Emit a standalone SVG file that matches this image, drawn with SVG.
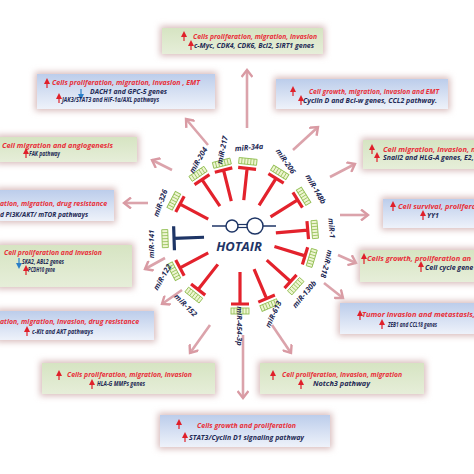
<svg xmlns="http://www.w3.org/2000/svg" width="474" height="474" viewBox="0 0 474 474">
<defs>
<linearGradient id="gG" x1="0" y1="0" x2="0" y2="1"><stop offset="0" stop-color="#d6e4c2"/><stop offset="1" stop-color="#e6eed9"/></linearGradient>
<linearGradient id="gB" x1="0" y1="0" x2="0" y2="1"><stop offset="0" stop-color="#bccdeb"/><stop offset="1" stop-color="#eef2fa"/></linearGradient>
<filter id="sh" x="-20%" y="-40%" width="140%" height="180%"><feGaussianBlur stdDeviation="3"/></filter>
<marker id="ah" markerWidth="12" markerHeight="12" refX="8" refY="6" orient="auto" markerUnits="userSpaceOnUse"><path d="M1,0.5 L8,6 L1,11.5" fill="none" stroke="#d99aa3" stroke-width="2.4"/></marker>
<marker id="up" markerWidth="6" markerHeight="6" refX="3" refY="3" orient="auto" markerUnits="userSpaceOnUse"><path d="M0,0 L6,3 L0,6 Z" fill="#e0202a"/></marker>
<marker id="dn" markerWidth="6" markerHeight="6" refX="3" refY="3" orient="auto" markerUnits="userSpaceOnUse"><path d="M0,0 L6,3 L0,6 Z" fill="#2a7fc8"/></marker>
<g id="lad"><rect x="72" y="-9" width="6" height="18" fill="#eef5d2" stroke="#93bf55" stroke-width="0.9"/><path d="M72,-6 H78 M72,-3 H78 M72,0 H78 M72,3 H78 M72,6 H78" stroke="#93bf55" stroke-width="0.8"/></g>
</defs>
<style>
.sh{fill:#d8bcbc;filter:url(#sh)}
.bg{fill:url(#gG)}
.bb{fill:url(#gB)}
.r{font-family:"Open Sans","Liberation Sans",sans-serif;font-style:italic;font-weight:bold;font-size:7.5px;fill:#e8303a}
.k{font-family:"Open Sans","Liberation Sans",sans-serif;font-style:italic;font-weight:bold;font-size:7px;fill:#1f2a55}
.ua{stroke:#e0202a;stroke-width:1.2;marker-end:url(#up)}
.da{stroke:#2a7fc8;stroke-width:1.2;marker-end:url(#dn)}
.ar{fill:none;stroke:#dba3ab;stroke-width:2.6;marker-end:url(#ah)}
.ti{stroke:#e3222c;stroke-width:3.2;fill:none}
.tb{stroke:#1e3566;stroke-width:3.2;fill:none}
.mi{font-family:"Open Sans","Liberation Sans",sans-serif;font-style:italic;font-weight:bold;font-size:7.5px;fill:#1f2a55;text-anchor:middle;dominant-baseline:central}
</style>
<rect width="474" height="474" fill="#ffffff"/>

<g id="connectors">
<path class="ar" d="M247,128 L247,70"/>
<path class="ar" d="M208,145 L186,119"/>
<path class="ar" d="M293,150 L318,127"/>
<path class="ar" d="M172,170 L152,160"/>
<path class="ar" d="M330,177 L355,164"/>
<path class="ar" d="M148,203 L124,203"/>
<path class="ar" d="M340,215 L368,215"/>
<path class="ar" d="M165,258 L145,269"/>
<path class="ar" d="M338,255 L356,263"/>
<path class="ar" d="M182,290 L162,304"/>
<path class="ar" d="M324,283 L343,298"/>
<path class="ar" d="M210,325 L190,353"/>
<path class="ar" d="M272,325 L291,353"/>
<path class="ar" d="M243,335 L243,398"/>
</g>

<g id="inhibitions">
<g transform="translate(240,236) rotate(-84)"><path class="ti" d="M36,0 H68 M68,-9 V9"/><use href="#lad"/></g>
<g transform="translate(240,236) rotate(-104)"><path class="ti" d="M36,0 H68 M68,-9 V9"/><use href="#lad"/></g>
<g transform="translate(240,236) rotate(-124)"><path class="ti" d="M36,0 H68 M68,-9 V9"/><use href="#lad"/></g>
<g transform="translate(240,236) rotate(-152)"><path class="ti" d="M36,0 H68 M68,-9 V9"/><use href="#lad"/></g>
<g transform="translate(240,236) rotate(178)"><path class="tb" d="M36,0 H66 M66,-12 V12"/><use href="#lad"/></g>
<g transform="translate(240,236) rotate(152)"><path class="ti" d="M36,0 H68 M68,-9 V9"/><use href="#lad"/></g>
<g transform="translate(240,236) rotate(128)"><path class="ti" d="M36,0 H68 M68,-9 V9"/><use href="#lad"/></g>
<g transform="translate(240,236) rotate(90)"><path class="ti" d="M36,0 H68 M68,-9 V9"/><use href="#lad"/></g>
<g transform="translate(240,236) rotate(67)"><path class="ti" d="M36,0 H68 M68,-9 V9"/><use href="#lad"/></g>
<g transform="translate(240,236) rotate(42)"><path class="ti" d="M36,0 H68 M68,-9 V9"/><use href="#lad"/></g>
<g transform="translate(240,236) rotate(17)"><path class="ti" d="M36,0 H68 M68,-9 V9"/><use href="#lad"/></g>
<g transform="translate(240,236) rotate(-5)"><path class="ti" d="M36,0 H68 M68,-9 V9"/><use href="#lad"/></g>
<g transform="translate(240,236) rotate(-32)"><path class="ti" d="M36,0 H68 M68,-9 V9"/><use href="#lad"/></g>
<g transform="translate(240,236) rotate(-58)"><path class="ti" d="M36,0 H68 M68,-9 V9"/><use href="#lad"/></g>
</g>

<g id="mirnas">
<text class="mi" transform="translate(249,147) rotate(-5)">miR-34a</text>
<text class="mi" transform="translate(222,150) rotate(-78)">miR-217</text>
<text class="mi" transform="translate(198,160) rotate(-60)">miR-204</text>
<text class="mi" transform="translate(160,203) rotate(-70)">miR-326</text>
<text class="mi" transform="translate(151,244) rotate(-90)">miR-141</text>
<text class="mi" transform="translate(162,277) rotate(-60)">miR-122</text>
<text class="mi" transform="translate(186,305) rotate(45)">miR-152</text>
<text class="mi" transform="translate(240,326) rotate(90)">miR-454-3p</text>
<text class="mi" transform="translate(273,314) rotate(-65)">miR-613</text>
<text class="mi" transform="translate(304,294) rotate(-50)">miR-130b</text>
<text class="mi" transform="translate(327,264) rotate(105)">miR-218</text>
<text class="mi" transform="translate(332,228) rotate(85)">miR-1</text>
<text class="mi" transform="translate(316,189) rotate(60)">miR-148b</text>
<text class="mi" transform="translate(286,161) rotate(55)">miR-206</text>
</g>

<g id="box-top">
<rect class="sh" x="160" y="26" width="165" height="30"/>
<rect class="bg" x="162" y="28" width="161" height="26"/>
<line class="ua" x1="184" y1="41" x2="184" y2="34"/>
<text class="r" x="193" y="38.5" textLength="124" lengthAdjust="spacingAndGlyphs">Cells proliferation, migration, invasion</text>
<line class="ua" x1="191" y1="50" x2="191" y2="43"/>
<text class="k" x="194" y="47.5" textLength="120" lengthAdjust="spacingAndGlyphs">c-Myc, CDK4, CDK6,  Bcl2, SIRT1 genes</text>
</g>

<g id="box-lefttop">
<rect class="sh" x="35" y="72" width="182" height="39"/>
<rect class="bb" x="37" y="74" width="178" height="35"/>
<line class="ua" x1="47" y1="88" x2="47" y2="81"/>
<text class="r" x="52" y="85" textLength="148" lengthAdjust="spacingAndGlyphs">Cells proliferation, migration, invasion , EMT</text>
<line class="da" x1="81" y1="89" x2="81" y2="97"/>
<text class="k" x="90" y="94" textLength="77" lengthAdjust="spacingAndGlyphs">DACH1 and GPC-5 genes</text>
<line class="ua" x1="59" y1="103" x2="59" y2="96"/>
<text class="k" x="62" y="101.5" textLength="97" lengthAdjust="spacingAndGlyphs">JAK3/STAT3 and  HIF-1α/AXL  pathways</text>
</g>

<g id="box-righttop">
<rect class="sh" x="274" y="77" width="176" height="34"/>
<rect class="bb" x="276" y="79" width="172" height="30"/>
<line class="ua" x1="293" y1="96" x2="293" y2="89"/>
<text class="r" x="309" y="93.5" textLength="130" lengthAdjust="spacingAndGlyphs">Cell growth, migration, invasion and EMT</text>
<line class="ua" x1="301" y1="105" x2="301" y2="98"/>
<text class="k" x="303" y="102.5" textLength="134" lengthAdjust="spacingAndGlyphs">Cyclin D and Bcl-w genes, CCL2 pathway.</text>
</g>

<g id="box-fak">
<rect class="sh" x="-4" y="135" width="143" height="29"/>
<rect class="bg" x="-2" y="137" width="139" height="25"/>
<text class="r" x="2" y="148" textLength="111" lengthAdjust="spacingAndGlyphs">Cell migration and  angiogenesis</text>
<line class="ua" x1="26" y1="158" x2="26" y2="151"/>
<text class="k" x="29" y="156" textLength="31" lengthAdjust="spacingAndGlyphs">FAK pathway</text>
</g>

<g id="box-snail">
<rect class="sh" x="361" y="138" width="120" height="33"/>
<rect class="bg" x="363" y="140" width="116" height="29"/>
<line class="ua" x1="372" y1="154" x2="372" y2="147"/>
<text class="r" x="383" y="152">Cell migration, invasion, met</text>
<line class="ua" x1="377" y1="162" x2="377" y2="155"/>
<text class="k" x="383" y="160">Snail2  and HLG-A genes, E2,</text>
</g>

<g id="box-pi3k">
<rect class="sh" x="-4" y="188" width="120" height="35"/>
<rect class="bb" x="-2" y="190" width="116" height="31"/>
<text class="r" x="0" y="206" textLength="107" lengthAdjust="spacingAndGlyphs">ation, migration, drug resistance</text>
<text class="k" x="0" y="217" textLength="88" lengthAdjust="spacingAndGlyphs">d PI3K/AKT/ mTOR  pathways</text>
</g>

<g id="box-yy1">
<rect class="sh" x="381" y="197" width="100" height="33"/>
<rect class="bb" x="383" y="199" width="96" height="29"/>
<line class="ua" x1="393" y1="211" x2="393" y2="204"/>
<text class="r" x="398" y="209">Cell survival, proliferat</text>
<line class="ua" x1="423" y1="220" x2="423" y2="213"/>
<text class="k" x="427" y="218">YY1</text>
</g>

<g id="box-ska2">
<rect class="sh" x="-4" y="243" width="138" height="46"/>
<rect class="bg" x="-2" y="245" width="134" height="42"/>
<text class="r" x="4" y="255" textLength="98" lengthAdjust="spacingAndGlyphs">Cell proliferation and invasion</text>
<line class="da" x1="19" y1="258" x2="19" y2="266"/>
<text class="k" x="22" y="264" font-size="6.5" textLength="42" lengthAdjust="spacingAndGlyphs">SKA2, ABL2 genes</text>
<line class="ua" x1="26" y1="275" x2="26" y2="268"/>
<text class="k" x="28" y="272" font-size="6.5" textLength="27" lengthAdjust="spacingAndGlyphs">PCDH10 gene</text>
</g>

<g id="box-cellcycle">
<rect class="sh" x="358" y="248" width="122" height="36"/>
<rect class="bg" x="360" y="250" width="118" height="32"/>
<line class="ua" x1="364" y1="264" x2="364" y2="256"/>
<text class="r" x="367" y="261">Cells growth,  proliferation an</text>
<line class="ua" x1="421" y1="272" x2="421" y2="264"/>
<text class="k" x="425" y="270">Cell cycle gene</text>
</g>

<g id="box-ckit">
<rect class="sh" x="-4" y="309" width="160" height="33"/>
<rect class="bb" x="-2" y="311" width="156" height="29"/>
<text class="r" x="0" y="324" textLength="139" lengthAdjust="spacingAndGlyphs">ation, migration, invasion,  drug resistance</text>
<line class="ua" x1="27" y1="336" x2="27" y2="329"/>
<text class="k" x="32" y="334" textLength="61" lengthAdjust="spacingAndGlyphs">c-Kit and AKT pathways</text>
</g>

<g id="box-zeb1">
<rect class="sh" x="338" y="301" width="142" height="35"/>
<rect class="bb" x="340" y="303" width="138" height="31"/>
<line class="ua" x1="360" y1="320" x2="360" y2="313"/>
<text class="r" x="362" y="317">Tumor invasion and metastasis, E</text>
<line class="ua" x1="382" y1="329" x2="382" y2="322"/>
<text class="k" x="388" y="327" textLength="49" lengthAdjust="spacingAndGlyphs">ZEB1 and CCL18 genes</text>
</g>

<g id="box-hlag">
<rect class="sh" x="40" y="361" width="177" height="35"/>
<rect class="bg" x="42" y="363" width="173" height="31"/>
<line class="ua" x1="59" y1="380" x2="59" y2="373"/>
<text class="r" x="67" y="377" textLength="125" lengthAdjust="spacingAndGlyphs">Cells proliferation,  migration, invasion</text>
<line class="ua" x1="92" y1="389" x2="92" y2="382"/>
<text class="k" x="97" y="386" textLength="48" lengthAdjust="spacingAndGlyphs">HLA-G MMPs genes</text>
</g>

<g id="box-notch3">
<rect class="sh" x="258" y="361" width="168" height="35"/>
<rect class="bg" x="260" y="363" width="164" height="31"/>
<line class="ua" x1="273" y1="380" x2="273" y2="373"/>
<text class="r" x="282" y="377" textLength="120" lengthAdjust="spacingAndGlyphs">Cell proliferation, invasion, migration</text>
<line class="ua" x1="301" y1="389" x2="301" y2="382"/>
<text class="k" x="313" y="386" textLength="57" lengthAdjust="spacingAndGlyphs">Notch3  pathway</text>
</g>

<g id="box-stat3">
<rect class="sh" x="158" y="413" width="174" height="36"/>
<rect class="bb" x="160" y="415" width="170" height="32"/>
<line class="ua" x1="179" y1="429" x2="179" y2="422"/>
<text class="r" x="197" y="427.5" textLength="99" lengthAdjust="spacingAndGlyphs">Cells growth and proliferation</text>
<line class="ua" x1="185" y1="442" x2="185" y2="435"/>
<text class="k" x="189" y="440" textLength="115" lengthAdjust="spacingAndGlyphs">STAT3/Cyclin D1 signaling pathway</text>
</g>

<g id="hotair">
<line x1="212" y1="226" x2="226" y2="226" stroke="#1e3566" stroke-width="1.5"/>
<circle cx="232" cy="226" r="6" fill="#fff" stroke="#1e3566" stroke-width="1.5"/>
<line x1="238" y1="224.5" x2="247" y2="224.5" stroke="#1e3566" stroke-width="1.2"/>
<line x1="238" y1="227.5" x2="247" y2="227.5" stroke="#1e3566" stroke-width="1.2"/>
<circle cx="255" cy="226" r="8" fill="#fff" stroke="#1e3566" stroke-width="1.5"/>
<line x1="263" y1="226" x2="276" y2="226" stroke="#1e3566" stroke-width="1.5"/>
<text x="239" y="251" text-anchor="middle" font-family="Open Sans, Liberation Sans, sans-serif" font-style="italic" font-weight="bold" font-size="13" fill="#1e3566">HOTAIR</text>
</g>
</svg>
